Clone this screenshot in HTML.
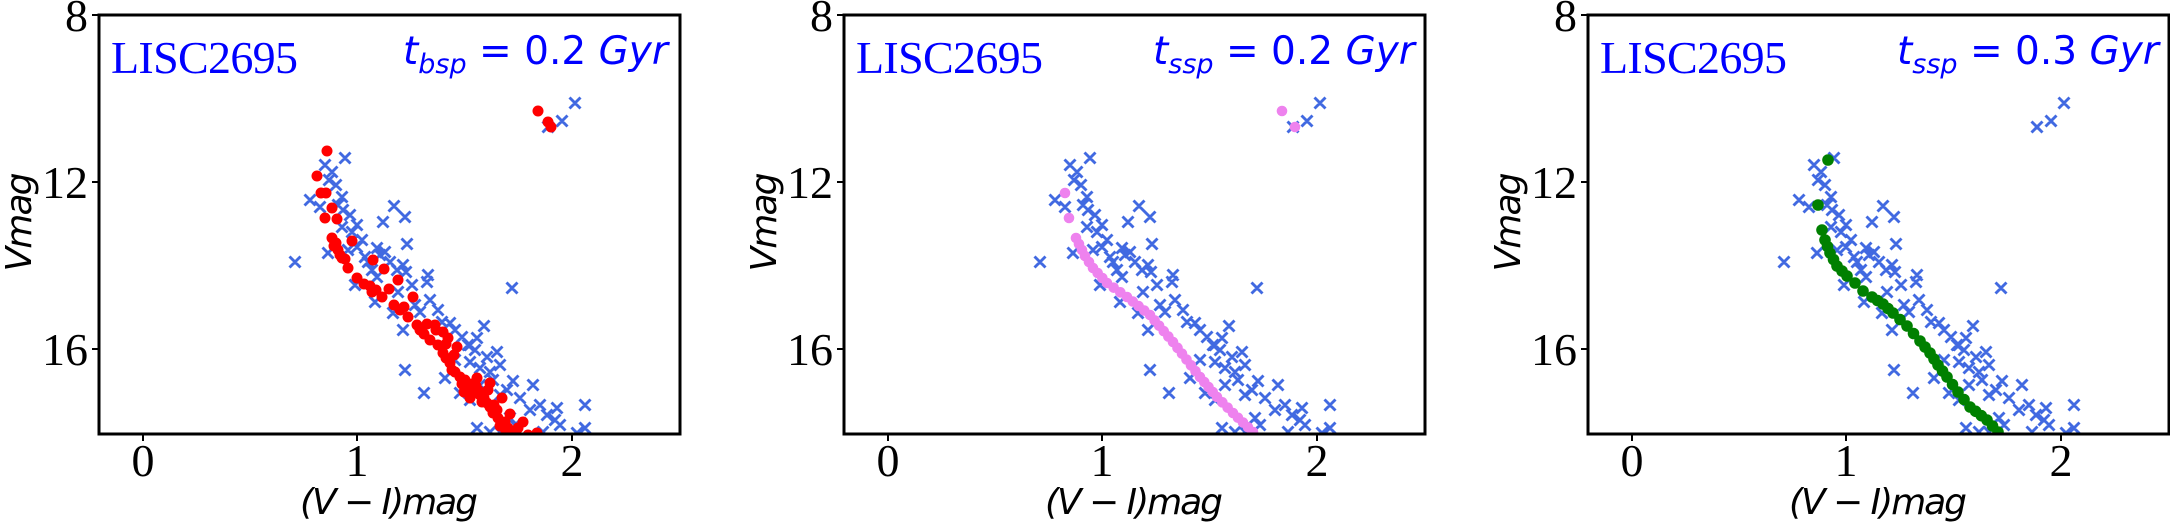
<!DOCTYPE html>
<html><head><meta charset="utf-8"><style>
html,body{margin:0;padding:0;background:#fff;}
svg{display:block;}
.tk{font-family:"Liberation Serif",serif;font-size:46px;fill:#000;}
.lab{font-family:"DejaVu Sans",sans-serif;font-style:italic;font-size:36px;fill:#000;}
.name{font-family:"Liberation Serif",serif;font-size:46px;fill:#0000ff;}
.age{font-family:"DejaVu Sans",sans-serif;font-size:39px;fill:#0000ff;}
.it{font-style:italic;}
</style></head><body>
<svg id="s" width="2170" height="528" xmlns="http://www.w3.org/2000/svg">
<defs>
<clipPath id="c0"><rect x="99" y="15" width="581" height="419"/></clipPath>
<clipPath id="c1"><rect x="844" y="15" width="581" height="419"/></clipPath>
<clipPath id="c2"><rect x="1588" y="15" width="581" height="419"/></clipPath>
</defs>
<g id="g0"></g><g id="g1"></g><g id="g2"></g>
<g>
<text class="tk" x="88" y="31" text-anchor="end">8</text>
<text class="tk" x="88" y="198" text-anchor="end">12</text>
<text class="tk" x="88" y="365" text-anchor="end">16</text>
<text class="tk" x="143" y="476" text-anchor="middle">0</text>
<text class="tk" x="357" y="476" text-anchor="middle">1</text>
<text class="tk" x="572" y="476" text-anchor="middle">2</text>
<text class="lab" x="389" y="514" text-anchor="middle" textLength="178">(V − I)mag</text>
<text class="lab" transform="translate(31,222) rotate(-90)" text-anchor="middle" textLength="99">Vmag</text>
<text class="name" x="111" y="73" textLength="187">LISC2695</text>
<text class="age" x="403" y="64"><tspan class="it">t</tspan><tspan class="it" font-size="27" dy="9">bsp</tspan><tspan dy="-9"> = 0.2 </tspan><tspan class="it">Gyr</tspan></text>
</g>
<g transform="translate(745,0)">
<text class="tk" x="88" y="31" text-anchor="end">8</text>
<text class="tk" x="88" y="198" text-anchor="end">12</text>
<text class="tk" x="88" y="365" text-anchor="end">16</text>
<text class="tk" x="143" y="476" text-anchor="middle">0</text>
<text class="tk" x="357" y="476" text-anchor="middle">1</text>
<text class="tk" x="572" y="476" text-anchor="middle">2</text>
<text class="lab" x="389" y="514" text-anchor="middle" textLength="178">(V − I)mag</text>
<text class="lab" transform="translate(31,222) rotate(-90)" text-anchor="middle" textLength="99">Vmag</text>
<text class="name" x="111" y="73" textLength="187">LISC2695</text>
<text class="age" x="408" y="64"><tspan class="it">t</tspan><tspan class="it" font-size="27" dy="9">ssp</tspan><tspan dy="-9"> = 0.2 </tspan><tspan class="it">Gyr</tspan></text>
</g>
<g transform="translate(1489,0)">
<text class="tk" x="88" y="31" text-anchor="end">8</text>
<text class="tk" x="88" y="198" text-anchor="end">12</text>
<text class="tk" x="88" y="365" text-anchor="end">16</text>
<text class="tk" x="143" y="476" text-anchor="middle">0</text>
<text class="tk" x="357" y="476" text-anchor="middle">1</text>
<text class="tk" x="572" y="476" text-anchor="middle">2</text>
<text class="lab" x="389" y="514" text-anchor="middle" textLength="178">(V − I)mag</text>
<text class="lab" transform="translate(31,222) rotate(-90)" text-anchor="middle" textLength="99">Vmag</text>
<text class="name" x="111" y="73" textLength="187">LISC2695</text>
<text class="age" x="408" y="64"><tspan class="it">t</tspan><tspan class="it" font-size="27" dy="9">ssp</tspan><tspan dy="-9"> = 0.3 </tspan><tspan class="it">Gyr</tspan></text>
</g>
</svg>
<script>
var NS="http://www.w3.org/2000/svg";
var offs=[0,745,1489];
var blue=[[575,103],[562,121],[548,127],[345,158],[325,165],[332,172],[329,180],[310,200],[342,197],[320,207],[343,210],[350,215],[342,227],[357,225],[394,206],[383,222],[405,217],[407,244],[295,262],[328,253],[357,247],[377,248],[385,252],[365,257],[380,255],[403,265],[397,270],[406,272],[377,277],[355,285],[428,275],[427,282],[512,288],[375,302],[393,313],[415,305],[420,312],[403,330],[442,322],[450,323],[462,337],[484,326],[477,338],[475,350],[487,357],[497,352],[480,368],[405,370],[424,393],[445,378],[460,393],[493,380],[513,381],[533,385],[507,390],[585,405],[530,410],[557,408],[547,415],[555,420],[477,428],[490,432],[585,428],[577,433],[543,432],[500,432],
[336,185],[338,205],[352,232],[362,240],[348,250],[368,262],[390,262],[372,270],[412,285],[398,292],[430,300],[438,310],[455,330],[468,345],[470,362],[490,372],[500,365],[520,398],[540,405],[560,425],[510,418],[515,425],[470,400],[455,360],[500,395],[480,385],[470,345]];
var red=[[327,151],[317,176],[321,193],[326,193],[332,208],[325,218],[337,219],[332,238],[352,241],[334,246],[340,255],[345,259],[348,268],[373,260],[384,269],[357,278],[364,284],[398,280],[389,289],[376,290],[382,297],[413,297],[394,305],[404,307],[408,317],[417,325],[427,324],[435,325],[430,340],[443,332],[448,338],[457,347],[443,353],[450,363],[460,377],[477,378],[490,383],[470,390],[480,395],[487,403],[502,398],[493,413],[510,414],[523,422],[503,425],[513,433],[537,433],[528,435],[538,111],[548,122],[551,127],
[336,243],[338,250],[342,258],[370,286],[372,292],[400,310],[420,330],[424,334],[438,345],[446,358],[452,370],[465,380],[468,386],[474,392],[484,398],[490,407],[498,418],[505,422],[508,428],[462,384],[476,386],[455,372],[446,344],[454,355],[472,384],[478,390],[482,402],[494,405],[497,410],[500,426],[506,432],[518,428],[488,390],[464,392],[470,398],[436,330]];
function ridge(pts,step){var o=[];for(var i=0;i<pts.length-1;i++){var a=pts[i],b=pts[i+1];var d=Math.hypot(b[0]-a[0],b[1]-a[1]);var n=Math.max(1,Math.round(d/step));for(var k=0;k<n;k++){o.push([a[0]+(b[0]-a[0])*k/n,a[1]+(b[1]-a[1])*k/n]);}}o.push(pts[pts.length-1]);return o;}
var pink=[[537,111],[550,127],[320,193],[324,218]].concat(ridge([[331,238],[340,256],[348,268],[362,283],[382,297],[405,315],[428,342],[455,377],[472,397],[488,413],[508,432],[512,438]],7));
var green=[[339,160],[329,205]].concat(ridge([[333,230],[336,240],[341,253],[348,266],[358,276],[366,283],[374,291],[383,297],[394,304],[404,313],[418,326],[431,341],[441,353],[449,365],[458,377],[469,392],[481,407],[498,420],[509,432],[513,438]],8));
var sers=[[red,"#ff0000",5.5],[pink,"#ee82ee",5.3],[green,"#008000",5.8]];
for(var p=0;p<3;p++){
 var g=document.getElementById("g"+p),ox=offs[p];
 var cl=document.createElementNS(NS,"g");cl.setAttribute("clip-path","url(#c"+p+")");g.appendChild(cl);
 var d="";blue.forEach(function(q){var x=q[0]+ox,y=q[1];d+="M"+(x-5.5)+" "+(y-5.5)+"L"+(x+5.5)+" "+(y+5.5)+"M"+(x-5.5)+" "+(y+5.5)+"L"+(x+5.5)+" "+(y-5.5);});
 var pa=document.createElementNS(NS,"path");pa.setAttribute("d",d);pa.setAttribute("stroke","#4169e1");pa.setAttribute("stroke-width","2.9");pa.setAttribute("fill","none");cl.appendChild(pa);
 var s=sers[p];s[0].forEach(function(q){var c=document.createElementNS(NS,"circle");c.setAttribute("cx",q[0]+ox);c.setAttribute("cy",q[1]);c.setAttribute("r",s[2]);c.setAttribute("fill",s[1]);cl.appendChild(c);});
 var r=document.createElementNS(NS,"rect");r.setAttribute("x",99+ox);r.setAttribute("y",15);r.setAttribute("width",581);r.setAttribute("height",419);r.setAttribute("fill","none");r.setAttribute("stroke","#000");r.setAttribute("stroke-width","3");g.appendChild(r);
 var t="";[15,182,349].forEach(function(y){t+="M"+(92+ox)+" "+y+"H"+(99+ox);});[143,357,572].forEach(function(x){t+="M"+(x+ox)+" 434V441";});
 var tp=document.createElementNS(NS,"path");tp.setAttribute("d",t);tp.setAttribute("stroke","#000");tp.setAttribute("stroke-width","2");g.appendChild(tp);
}
</script>
</body></html>
